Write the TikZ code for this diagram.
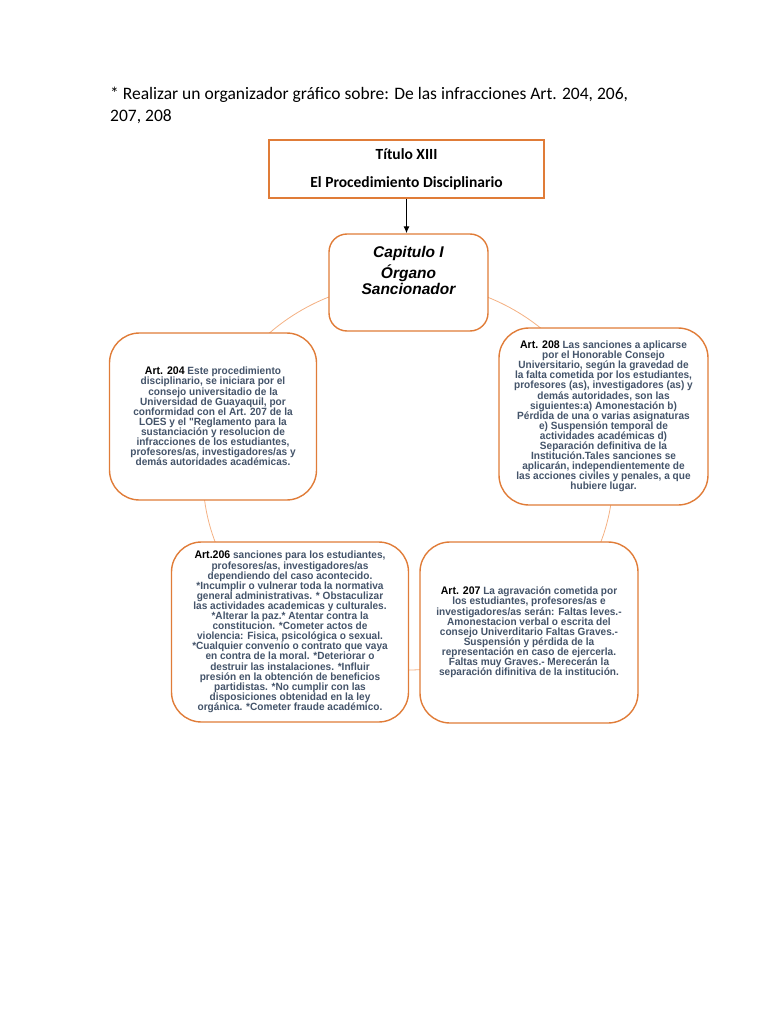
\documentclass[tikz,border=0pt]{standalone}
\usepackage{fontspec}
\setmainfont{Liberation Sans}
\newfontfamily\calibri{Carlito}
\newfontfamily\arialn{Liberation Sans}[FakeStretch=0.96]
\usepackage{xcolor}
\usetikzlibrary{arrows.meta}
\definecolor{box_orange}{HTML}{E07C38}
\definecolor{ring_orange}{HTML}{F4B183}
\definecolor{text_blue}{HTML}{44546A}
\newcommand{\artlabel}[1]{{\color{black}\fontsize{11}{10.1}\selectfont #1}}

\tikzset{
  artbox/.style={draw=box_orange, line width=1.4pt, rounded corners=30pt, fill=white,
    align=center, inner sep=0pt, text=text_blue,
    font=\arialn\bfseries\fontsize{10.5}{10.1}\selectfont},
}

\begin{document}
\begin{tikzpicture}[x=1pt,y=-1pt]
        \useasboundingbox (0,0) rectangle (768,1024);
        % Enunciado
        \node[anchor=north west, align=left, inner sep=0pt,
              font=\calibri\fontsize{17.5}{22}\selectfont] (tarea) at (110,87)
              {* Realizar un organizador gráfico sobre: De las infracciones Art. 204, 206,\\207, 208};
        % Anillo de fondo
        \draw[ring_orange, line width=0.8pt] (408,476) ellipse [x radius=205, y radius=194];
        % Titulo
        \node[draw=box_orange, line width=1.4pt, fill=white, align=center,
              minimum width=275pt, minimum height=58pt,
              font=\calibri\bfseries\fontsize{15.5}{18}\selectfont] (titulo) at (406.5,169)
              {Título XIII\\[10pt]El Procedimiento Disciplinario};
        % Capitulo
        \node[draw=box_orange, line width=1.4pt, rounded corners=18pt, fill=white, align=center,
              minimum width=159pt, minimum height=97pt,
              font=\bfseries\itshape\fontsize{15.5}{21}\selectfont] (capitulo) at (408.5,282.5)
              {Capitulo I\\Órgano\\[-5pt]Sancionador\rule[-25pt]{0pt}{0pt}};
        \draw[-{Latex[length=7pt,width=6pt]}, line width=1.1pt] (titulo.south) -- (titulo.south |- capitulo.north);
        % Articulos
        \node[artbox, minimum width=207pt, minimum height=167pt] (art204) at (213,416.5)
              {\artlabel{Art. 204} Este procedimiento\\
               disciplinario, se iniciara por el\\
               consejo universitadio de la\\
               Universidad de Guayaquil, por\\
               conformidad con el Art. 207 de la\\
               LOES y el "Reglamento para la\\
               sustanciación y resolucion de\\
               infracciones de los estudiantes,\\
               profesores/as, investigadores/as y\\
               demás autoridades académicas.};
        \node[artbox, minimum width=209pt, minimum height=177pt] (art208) at (603.5,416.5)
              {\artlabel{Art. 208} Las sanciones a aplicarse\\
               por el Honorable Consejo\\
               Universitario, según la gravedad de\\
               la falta cometida por los estudiantes,\\
               profesores (as), investigadores (as) y\\
               demás autoridades, son las\\
               siguientes:a) Amonestación b)\\
               Pérdida de una o varias asignaturas\\
               e) Suspensión temporal de\\
               actividades académicas d)\\
               Separación definitiva de la\\
               Institución.Tales sanciones se\\
               aplicarán, independientemente de\\
               las acciones civiles y penales, a que\\
               hubiere lugar.};
        \node[artbox, minimum width=237pt, minimum height=180pt] (art206) at (290,632)
              {\artlabel{Art.206} sanciones para los estudiantes,\\
               profesores/as, investigadores/as\\
               dependiendo del caso acontecido.\\
               *Incumplir o vulnerar toda la normativa\\
               general administrativas. * Obstaculizar\\
               las actividades academicas y culturales.\\
               *Alterar la paz.* Atentar contra la\\
               constitucion. *Cometer actos de\\
               violencia: Fisica, psicológica o sexual.\\
               *Cualquier convenio o contrato que vaya\\
               en contra de la moral. *Deteriorar o\\
               destruir las instalaciones. *Influir\\
               presión en la obtención de beneficios\\
               partidistas. *No cumplir con las\\
               disposiciones obtenidad en la ley\\
               orgánica. *Cometer fraude académico.};
        \node[artbox, minimum width=218pt, minimum height=181pt] (art207) at (529,632.5)
              {\artlabel{Art. 207} La agravación cometida por\\
               los estudiantes, profesores/as e\\
               investigadores/as serán: Faltas leves.-\\
               Amonestacion verbal o escrita del\\
               consejo Univerditario Faltas Graves.-\\
               Suspensión y pérdida de la\\
               representación en caso de ejercerla.\\
               Faltas muy Graves.- Merecerán la\\
               separación difinitiva de la institución.};
    \end{tikzpicture}
\end{document}
